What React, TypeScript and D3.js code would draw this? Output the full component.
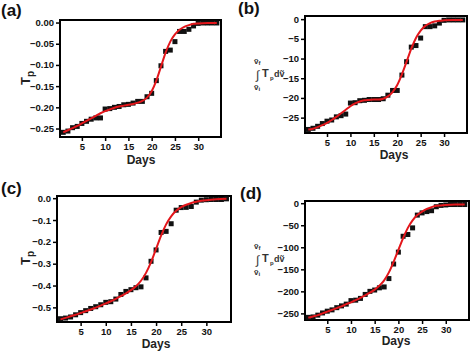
import React, { useRef, useEffect } from "react";
import * as d3 from "d3";

// measured days
const days = [1, 2, 3, 4, 5, 6, 7, 8, 9, 10, 11, 12, 13, 14, 15, 16, 17, 18, 19, 20, 21, 22, 23, 24, 25, 26, 27, 28, 29, 30, 31, 32, 33, 34];

// (a) Tp
const tpA = [-0.259, -0.256, -0.248, -0.245, -0.238, -0.233, -0.228, -0.225, -0.225, -0.204, -0.203, -0.2, -0.198, -0.194, -0.193, -0.19, -0.186, -0.186, -0.175, -0.167, -0.137, -0.102, -0.068, -0.065, -0.045, -0.021, -0.021, -0.016, -0.008, -0.002, -0.001, -0.001, -0.001, -0.001];
// (b) integral
const intB = [-28.0, -27.7, -27.2, -26.5, -25.9, -25.6, -24.8, -24.5, -24.1, -21.3, -21.2, -20.7, -20.6, -20.4, -20.4, -20.4, -20.2, -19.3, -18.1, -18.1, -14.2, -10.8, -7.1, -6.7, -4.8, -1.9, -1.9, -1.7, -1.0, -0.3, -0.2, -0.2, -0.2, -0.2];
// (c) Tp
const tpC = [-0.552, -0.549, -0.544, -0.534, -0.524, -0.515, -0.505, -0.497, -0.488, -0.477, -0.474, -0.462, -0.441, -0.427, -0.419, -0.41, -0.406, -0.365, -0.289, -0.237, -0.157, -0.152, -0.117, -0.055, -0.043, -0.042, -0.038, -0.018, -0.009, -0.007, -0.006, -0.006, -0.006, -0.003];
// (d) integral
const intD = [-259, -258, -254, -249, -245, -242, -237, -233, -229, -221, -220, -216, -207, -200, -197, -192, -190, -171, -138, -111, -75, -71, -56, -27, -22, -19, -17, -8, -5, -4, -3, -3, -3, -3];

// fitted curves
const fitDays = [1, 2, 3, 4, 5, 6, 7, 8, 9, 10, 11, 12, 13, 14, 15, 16, 17, 18, 19, 20, 21, 22, 23, 24, 25, 26, 27, 28, 29, 30, 32, 34];
const fitA = [-0.259, -0.254, -0.249, -0.244, -0.238, -0.232, -0.226, -0.22, -0.214, -0.209, -0.205, -0.201, -0.198, -0.196, -0.194, -0.192, -0.189, -0.185, -0.177, -0.162, -0.137, -0.104, -0.071, -0.045, -0.028, -0.017, -0.01, -0.006, -0.003, -0.002, -0.001, -0.001];
const fitB = [-28.0, -27.8, -27.4, -26.9, -26.3, -25.6, -24.8, -23.9, -23.0, -22.1, -21.4, -20.9, -20.6, -20.5, -20.4, -20.4, -20.2, -19.6, -18.5, -16.7, -14.0, -10.8, -7.5, -4.8, -2.9, -1.7, -1.0, -0.6, -0.4, -0.3, -0.2, -0.2];
const fitC = [-0.555, -0.548, -0.541, -0.534, -0.526, -0.518, -0.51, -0.501, -0.492, -0.482, -0.472, -0.461, -0.449, -0.436, -0.421, -0.403, -0.378, -0.342, -0.293, -0.232, -0.171, -0.12, -0.083, -0.058, -0.041, -0.03, -0.022, -0.016, -0.012, -0.009, -0.005, -0.003];
const fitD = [-260, -257, -254, -250, -246, -242, -238, -234, -229, -225, -220, -215, -209, -203, -196, -187, -175, -157, -133, -106, -79, -56, -39, -27, -19, -13, -9, -6, -5, -4, -3, -3];

const xTicks = [5, 10, 15, 20, 25, 30];
const yTicksA = [0, -0.05, -0.1, -0.15, -0.2, -0.25];
const yTicksB = [0, -5, -10, -15, -20, -25];
const yTicksC = [0, -0.1, -0.2, -0.3, -0.4, -0.5];
const yTicksD = [0, -50, -100, -150, -200, -250];

const FONT = "'Liberation Sans', Arial, sans-serif";

function Panel({ box, yDomain, yTicks, fmt, points, fit, labelX, labelY }) {
  const gRef = useRef(null);
  const [x0, y0, x1, y1] = box;

  useEffect(() => {
    const g = d3.select(gRef.current);
    g.selectAll("*").remove();

    var x = d3.scaleLinear().domain([0.3, 34.9]).range([x0, x1]);
    var y = d3.scaleLinear().domain(yDomain).range([y1, y0]);

    //axes
    var xa = g.append("g").attr("transform", "translate(0," + y1 + ")")
      .call(d3.axisBottom(x).tickValues(xTicks).tickSize(4).tickPadding(2).tickFormat(d3.format("d")));
    var ya = g.append("g").attr("transform", "translate(" + x0 + ",0)")
      .call(d3.axisLeft(y).tickValues(yTicks).tickSize(4).tickPadding(2).tickFormat(d3.format(fmt)));
    [xa, ya].forEach(a => {
      a.select(".domain").remove();
      a.selectAll("line").attr("stroke", "#000").attr("stroke-width", 1.5);
      a.selectAll("text").attr("font-family", FONT).attr("font-weight", "bold")
        .attr("font-size", 9.5).attr("fill", "#111");
    });

    g.append("rect").attr("x", x0).attr("y", y0).attr("width", x1 - x0).attr("height", y1 - y0)
      .attr("fill", "none").attr("stroke", "#000").attr("stroke-width", 2);

    g.selectAll("rect.pt").data(points).enter().append("rect")
      .attr("class", "pt")
      .attr("x", (d, i) => x(days[i]) - 2.5)
      .attr("y", d => y(d) - 2.5)
      .attr("width", 5).attr("height", 5)
      .attr("fill", "#111");

    var line = d3.line().x((d, i) => x(fitDays[i])).y(d => y(d)).curve(d3.curveMonotoneX);
    g.append("path").datum(fit).attr("d", line)
      .attr("fill", "none").attr("stroke", "#e3161b").attr("stroke-width", 2);

    g.append("text").attr("x", labelX).attr("y", labelY).attr("text-anchor", "middle")
      .attr("font-family", FONT).attr("font-weight", "bold").attr("font-size", 12)
      .attr("fill", "#222").text("Days");
  }, []);

  return <g ref={gRef}></g>;
}

function TpLabel({ cx, cy }) {
  return (
    <text transform={"translate(" + cx + "," + cy + ") rotate(-90)"} textAnchor="middle"
      fontFamily={FONT} fontWeight="bold" fontSize={13} fill="#222">
      T<tspan fontSize={10} dy={4}>p</tspan>
    </text>
  );
}

function IntLabel({ dy }) {
  const s = { fontFamily: FONT, fontWeight: "bold", fill: "#333" };
  return (
    <g transform={"translate(0," + dy + ")"}>
      <text x={254} y={64} fontSize={8} style={s}>{"\u1E7D"}<tspan fontSize={6} dy={1}>f</tspan></text>
      <text x={256} y={79} fontSize={12} style={{ ...s, fontWeight: "normal" }}>{"\u222B"}</text>
      <text x={262} y={77} fontSize={11} style={s}>T</text>
      <text x={270} y={80} fontSize={6} style={s}>p</text>
      <text x={274} y={77} fontSize={9} style={s}>{"d\u1E7D"}</text>
      <text x={254} y={90} fontSize={8} style={s}>{"\u1E7D"}<tspan fontSize={6} dy={1}>i</tspan></text>
    </g>
  );
}

export default function App() {
  const lab = { fontFamily: FONT, fontWeight: "bold", fontSize: 17, fill: "#111" };
  return (
    <svg width={474} height={354} style={{ position: "absolute", left: 0, top: 0, background: "#fff" }}>
      <text x={1} y={16} style={lab}>(a)</text>
      <text x={238} y={14} style={lab}>(b)</text>
      <text x={1} y={194} style={lab}>(c)</text>
      <text x={240} y={199} style={lab}>(d)</text>

      <Panel box={[60, 20, 221, 137]} yDomain={[-0.27, 0.006]} yTicks={yTicksA} fmt=".2f"
        points={tpA} fit={fitA} labelX={141} labelY={164} />
      <Panel box={[305, 16, 467, 133]} yDomain={[-28.9, 0.8]} yTicks={yTicksB} fmt="d"
        points={intB} fit={fitB} labelX={394} labelY={159} />
      <Panel box={[57, 196, 231, 322]} yDomain={[-0.567, 0.01]} yTicks={yTicksC} fmt=".1f"
        points={tpC} fit={fitC} labelX={156} labelY={348} />
      <Panel box={[305, 201, 469, 320]} yDomain={[-265, 5]} yTicks={yTicksD} fmt="d"
        points={intD} fit={fitD} labelX={396} labelY={345} />

      <TpLabel cx={30} cy={78} />
      <TpLabel cx={30} cy={258} />
      <IntLabel dy={0} />
      <IntLabel dy={185} />
    </svg>
  );
}
